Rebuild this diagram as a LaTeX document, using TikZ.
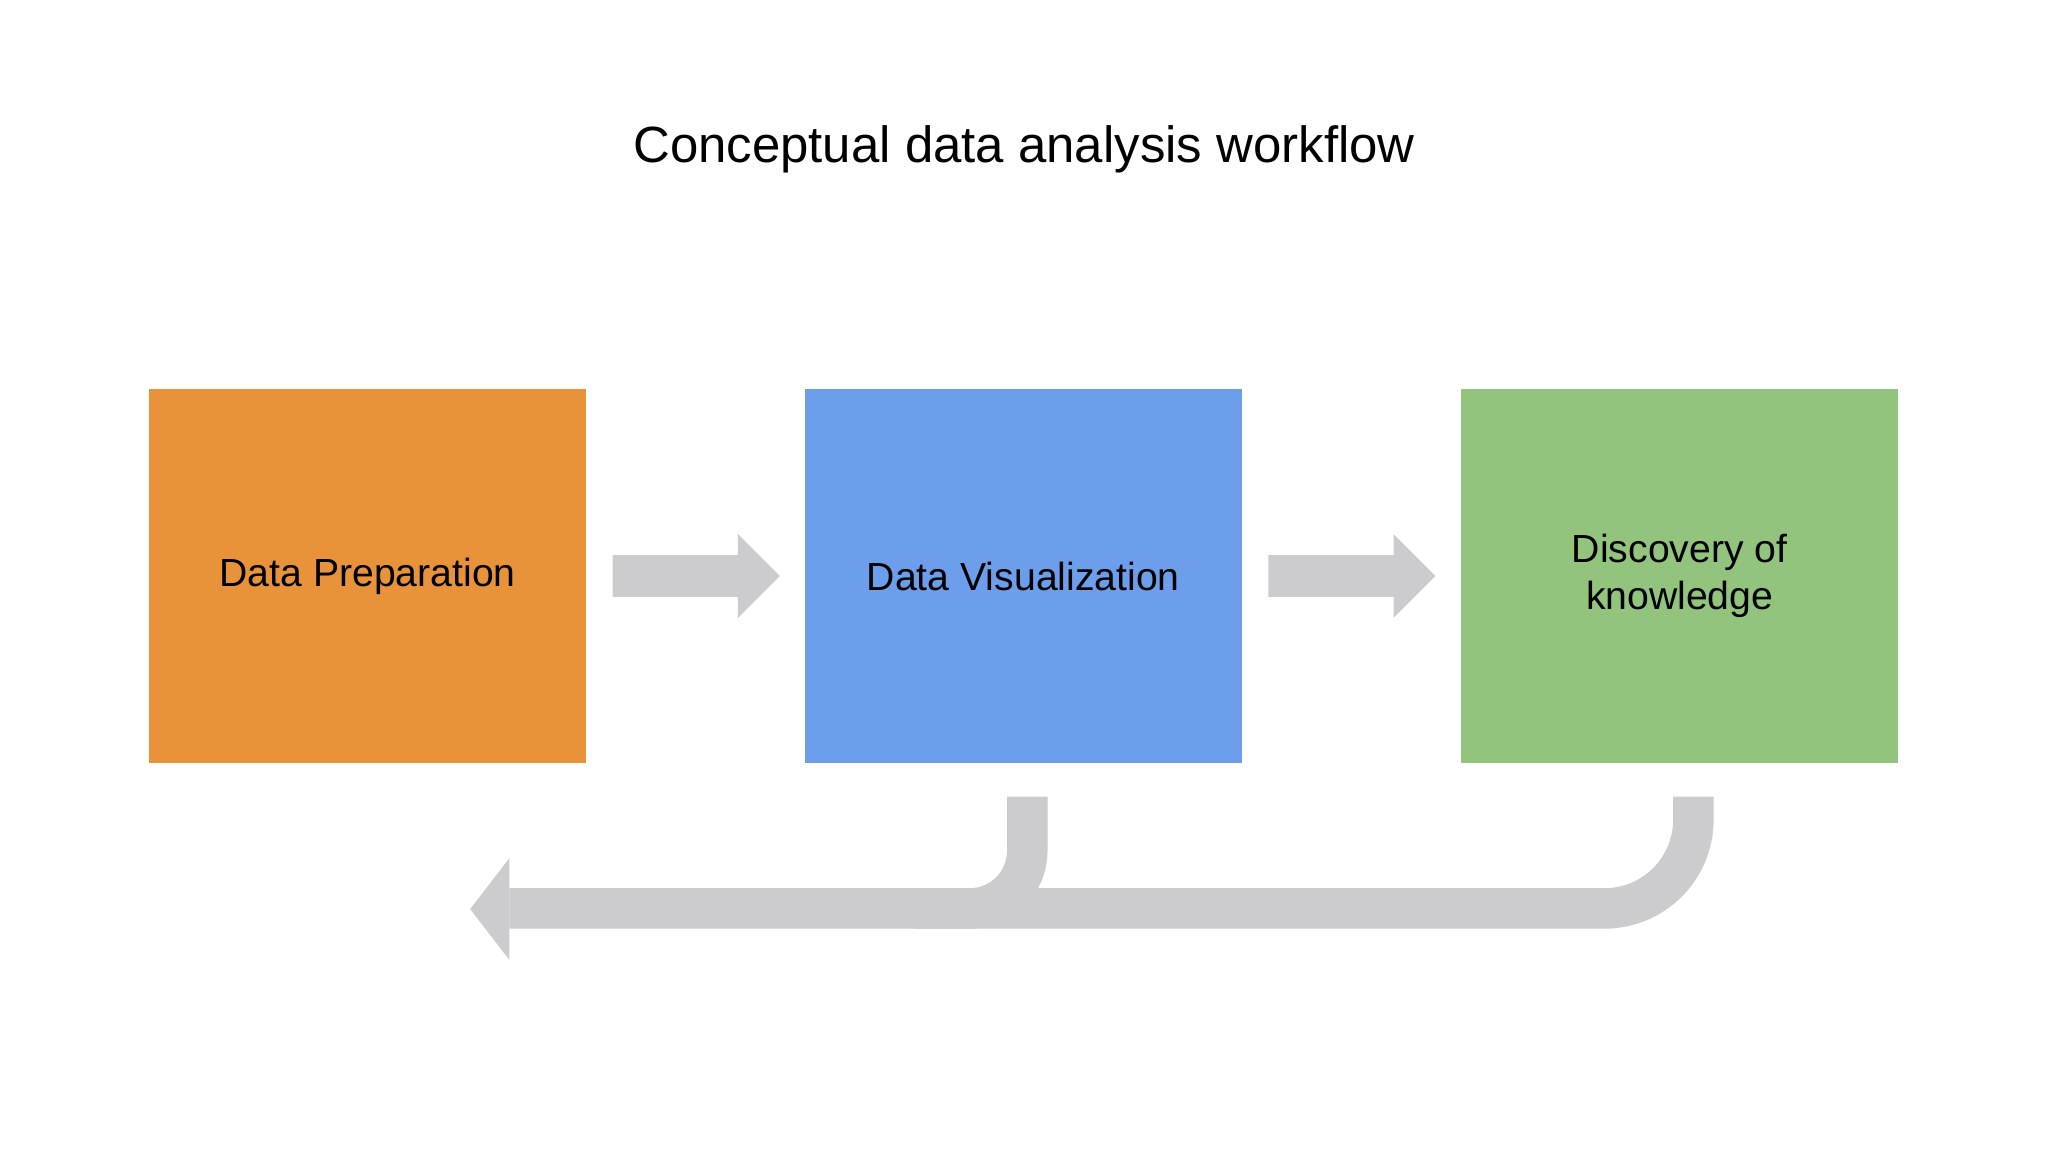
\documentclass[tikz,border=0pt]{standalone}
\usepackage{fontspec}
\setmainfont{Liberation Sans}
\begin{document}
\begin{tikzpicture}[x=0.5pt,y=-0.5pt,
  box/.style={draw=none,minimum width=167.5pt,minimum height=143pt,inner sep=0pt,align=center,font=\fontsize{15}{18}\selectfont},
  gr/.style={fill=arrowgray,draw=none}]
\definecolor{arrowgray}{HTML}{CCCCCE}
\definecolor{orangebox}{HTML}{E8923A}
\definecolor{bluebox}{HTML}{6D9EEB}
\definecolor{greenbox}{HTML}{93C47D}
\useasboundingbox[fill=white] (0,0) rectangle (1568,882);
\node[font=\fontsize{19.5}{23}\selectfont] (title) at (784,114) {Conceptual data analysis workflow};
\node[box,fill=orangebox] (prep) at (281.5,441) {Data Preparation};
\node[box,fill=bluebox] (vis) at (783.5,441) {Data Visualization};
\node[box,fill=greenbox] (disc) at (1286,441) {Discovery of\\knowledge};
% right arrows
\fill[gr] (469,425) -- (565,425) -- (565,409) -- (597,441) -- (565,473) -- (565,457) -- (469,457) -- cycle;
\fill[gr] (971,425) -- (1067,425) -- (1067,409) -- (1099,441) -- (1067,473) -- (1067,457) -- (971,457) -- cycle;
% feedback arrow
\coordinate (gs) at (1296.5,610);
\coordinate (bs) at (786.5,610);
\coordinate (end) at (390,695.5);
\draw[arrowgray,line width=15.5pt,rounded corners=34] (gs) -- (1296.5,695.5) -- (end);
\draw[arrowgray,line width=15.5pt,rounded corners=22] (bs) -- (786.5,695.5) -- (700,695.5);
\fill[gr] (390,657) -- (360,696) -- (390,735) -- cycle;
\end{tikzpicture}
\end{document}
